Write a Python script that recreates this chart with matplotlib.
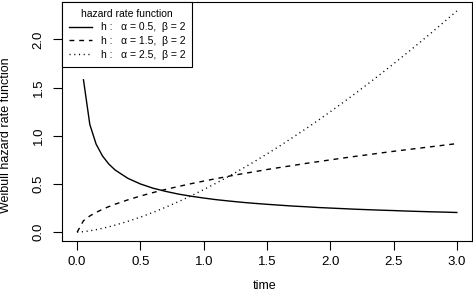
import numpy as np
import matplotlib
matplotlib.use("Agg")
import matplotlib.pyplot as plt

plt.rcParams['font.family'] = ['Liberation Sans', 'DejaVu Sans']

# time grid and hazard values
time = [0, 0.05, 0.1, 0.15, 0.2, 0.25, 0.3, 0.4, 0.5, 0.6, 0.7, 0.8, 0.9, 1.0,
        1.1, 1.2, 1.3, 1.4, 1.5, 1.6, 1.7, 1.8, 1.9, 2.0, 2.1, 2.2, 2.3, 2.4,
        2.5, 2.6, 2.7, 2.8, 2.9, 3.0]
h_a05 = [np.nan, 1.581, 1.118, 0.913, 0.791, 0.707, 0.645, 0.559, 0.500, 0.456,
         0.423, 0.395, 0.373, 0.354, 0.337, 0.323, 0.310, 0.299, 0.289, 0.280,
         0.271, 0.264, 0.256, 0.250, 0.244, 0.238, 0.233, 0.228, 0.224, 0.219,
         0.215, 0.211, 0.208, 0.204]
h_a15 = [0, 0.119, 0.168, 0.205, 0.237, 0.265, 0.290, 0.335, 0.375, 0.411,
         0.444, 0.474, 0.503, 0.530, 0.556, 0.581, 0.605, 0.627, 0.650, 0.671,
         0.691, 0.712, 0.731, 0.750, 0.769, 0.787, 0.804, 0.822, 0.839, 0.855,
         0.871, 0.887, 0.903, 0.919]
h_a25 = [0, 0.005, 0.014, 0.026, 0.040, 0.055, 0.073, 0.112, 0.156, 0.205,
         0.259, 0.316, 0.377, 0.442, 0.510, 0.581, 0.655, 0.732, 0.812, 0.894,
         0.980, 1.067, 1.157, 1.250, 1.345, 1.442, 1.542, 1.643, 1.747, 1.853,
         1.961, 2.071, 2.183, 2.296]
labels = ["h :   α = 0.5,  β = 2",
          "h :   α = 1.5,  β = 2",
          "h :   α = 2.5,  β = 2"]

fig = plt.figure(figsize=(4.73, 2.95), dpi=100)
ax = fig.add_axes([0.131, 0.183, 0.867, 0.810])

ax.plot(time, h_a05, color='black', lw=1.0, ls='-', label=labels[0])
ax.plot(time, h_a15, color='black', lw=1.0, ls=(0, (3.5, 3.5)), label=labels[1])
ax.plot(time, h_a25, color='black', lw=1.0, ls=(0, (0.8, 2.6)), label=labels[2])

ax.set_xlim(-0.12, 3.12)
ax.set_ylim(-0.092, 2.388)
ax.set_xticks([0, 0.5, 1.0, 1.5, 2.0, 2.5, 3.0])
ax.set_yticks([0, 0.5, 1.0, 1.5, 2.0])
ax.set_xticklabels(['0.0', '0.5', '1.0', '1.5', '2.0', '2.5', '3.0'])
ax.set_yticklabels(['0.0', '0.5', '1.0', '1.5', '2.0'], rotation=90, va='center')
ax.tick_params(direction='out', length=6.5, width=0.8, labelsize=9.5)
ax.tick_params(axis='x', pad=4.5)
ax.tick_params(axis='y', pad=6)
for s in ax.spines.values():
    s.set_linewidth(0.8)

ax.set_xlabel('time', fontsize=9)
ax.set_ylabel('Weibull hazard rate function', fontsize=9)
ax.xaxis.set_label_coords(0.495, -0.163)
ax.yaxis.set_label_coords(-0.122, 0.444)

leg = ax.legend(loc='upper left', bbox_to_anchor=(0, 1), borderaxespad=0,
                title='hazard rate function', fontsize=7.5, title_fontsize=7.5,
                fancybox=False, framealpha=1, edgecolor='black',
                handlelength=2.2, handletextpad=0.9, labelspacing=0.35,
                borderpad=0.65)
leg.get_frame().set_linewidth(0.8)

fig.savefig('out.png', dpi=100)
